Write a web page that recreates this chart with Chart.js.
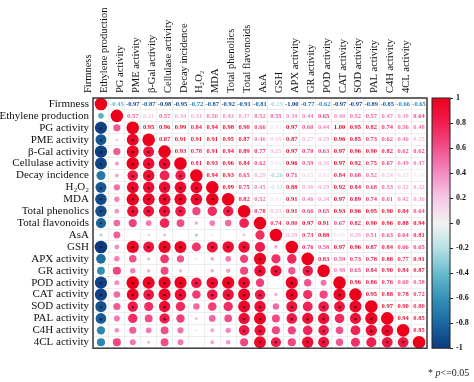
<!DOCTYPE html>
<html>
<head>
<meta charset="utf-8">
<script src="https://cdn.jsdelivr.net/npm/chart.js@4.4.0/dist/chart.umd.min.js"></script>
<style>
  body { margin: 0; background: #fff; }
  #wrap { width: 474px; height: 382px; position: relative; }
</style>
</head>
<body>
<div id="wrap"><canvas id="corr-chart"></canvas></div>
<script>
const variables = [
  'Firmness', 'Ethylene production', 'PG activity', 'PME activity', 'β-Gal activity',
  'Cellulase activity', 'Decay incidence', 'H₂O₂', 'MDA', 'Total phenolics',
  'Total flavonoids', 'AsA', 'GSH', 'APX activity', 'GR activity', 'POD activity',
  'CAT activity', 'SOD activity', 'PAL activity', 'C4H activity', '4CL activity'
];

// upper triangle, row i holds r(i, j) for j = i+1 .. 20
const corrUpper = [
  [-0.45, -0.97, -0.87, -0.98, -0.95, -0.72, -0.87, -0.92, -0.91, -0.81, -0.25, -1.00, -0.77, -0.62, -0.97, -0.97, -0.89, -0.85, -0.66, -0.65],
  [0.57, 0.21, 0.57, 0.34, 0.31, 0.50, 0.43, 0.37, 0.52, 0.55, 0.39, 0.44, 0.65, 0.40, 0.52, 0.57, 0.47, 0.38, 0.64],
  [0.95, 0.96, 0.99, 0.84, 0.94, 0.98, 0.90, 0.66, 0.05, 0.97, 0.60, 0.44, 1.00, 0.95, 0.82, 0.74, 0.56, 0.48],
  [0.87, 0.91, 0.91, 0.91, 0.95, 0.87, 0.46, 0.19, 0.87, 0.27, 0.29, 0.96, 0.85, 0.73, 0.62, 0.46, 0.25],
  [0.93, 0.78, 0.91, 0.94, 0.89, 0.77, 0.25, 0.97, 0.70, 0.63, 0.97, 0.96, 0.90, 0.82, 0.62, 0.62],
  [0.81, 0.93, 0.96, 0.84, 0.62, 0.06, 0.96, 0.59, 0.26, 0.97, 0.92, 0.75, 0.67, 0.49, 0.47],
  [0.94, 0.93, 0.65, 0.29, -0.26, 0.71, 0.15, 0.13, 0.84, 0.68, 0.52, 0.24, 0.15, 0.04],
  [0.99, 0.75, 0.45, -0.13, 0.88, 0.30, 0.29, 0.92, 0.84, 0.68, 0.53, 0.32, 0.32],
  [0.82, 0.52, 0.04, 0.91, 0.46, 0.34, 0.97, 0.89, 0.74, 0.61, 0.42, 0.36],
  [0.78, 0.23, 0.91, 0.66, 0.65, 0.93, 0.96, 0.95, 0.90, 0.84, 0.64],
  [0.74, 0.80, 0.97, 0.91, 0.67, 0.82, 0.90, 0.96, 0.88, 0.94],
  [0.29, 0.73, 0.88, 0.06, 0.28, 0.51, 0.63, 0.64, 0.81],
  [0.76, 0.58, 0.97, 0.96, 0.87, 0.84, 0.66, 0.65],
  [0.83, 0.59, 0.73, 0.78, 0.88, 0.77, 0.91],
  [0.48, 0.65, 0.84, 0.90, 0.84, 0.87],
  [0.96, 0.86, 0.76, 0.60, 0.58],
  [0.95, 0.88, 0.78, 0.72],
  [0.97, 0.90, 0.80],
  [0.94, 0.85],
  [0.85]
];

const colorbarTicks = [1, 0.8, 0.6, 0.4, 0.2, 0, -0.2, -0.4, -0.6, -0.8, -1];
const sigLimit = 0.81; // |r| marked with * (p<=0.05)

// colour map: value -> rgb
const cmap = [
  [-1.0, [12, 58, 128]],
  [-0.8, [26, 104, 160]],
  [-0.6, [52, 145, 185]],
  [-0.4, [105, 188, 204]],
  [-0.2, [184, 225, 229]],
  [0.0, [242, 242, 242]],
  [0.2, [246, 200, 230]],
  [0.4, [243, 140, 196]],
  [0.6, [242, 80, 140]],
  [0.8, [240, 30, 80]],
  [1.0, [236, 0, 28]]
];

const corrColor = (v) => {
  for (let k = 1; k < cmap.length; k++) {
    if (v <= cmap[k][0]) {
      const [v0, c0] = cmap[k - 1];
      const [v1, c1] = cmap[k];
      const t = (v - v0) / (v1 - v0);
      const c = c0.map((c, q) => Math.round(c + (c1[q] - c) * t));
      return `rgb(${c[0]},${c[1]},${c[2]})`;
    }
  }
  return 'rgb(236,0,28)';
};

const n = variables.length;
const corr = variables.map((_, i) => variables.map((_, j) => {
  if (i === j) return 1;
  return i < j ? corrUpper[i][j - i - 1] : corrUpper[j][i - j - 1];
}));

// circles: lower triangle + diagonal
const circles = [];
for (let i = 0; i < n; i++) {
  for (let j = 0; j <= i; j++) {
    const v = corr[i][j];
    circles.push({ x: variables[j], y: variables[i], r: Math.abs(v) * 6.3, v: v });
  }
}

const serif = '"Liberation Serif", "Times New Roman", serif';

const matrixExtras = {
  id: 'matrixExtras',
  afterDatasetsDraw(chart) {
    const { ctx, chartArea: a, scales: { x, y, cb } } = chart;
    ctx.save();

    // numbers in the upper triangle
    ctx.font = `bold 6.5px ${serif}`;
    ctx.textAlign = 'center';
    ctx.textBaseline = 'middle';
    for (let i = 0; i < n; i++) {
      for (let j = i + 1; j < n; j++) {
        ctx.fillStyle = corrColor(corr[i][j]);
        ctx.fillText(corr[i][j].toFixed(2), x.getPixelForValue(j), y.getPixelForValue(i));
      }
    }

    // significance marks on circles
    ctx.font = `bold 6.5px ${serif}`;
    ctx.fillStyle = '#3a0a0a';
    for (let i = 0; i < n; i++) {
      for (let j = 0; j < i; j++) {
        if (Math.abs(corr[i][j]) >= sigLimit) {
          ctx.fillText('*', x.getPixelForValue(j), y.getPixelForValue(i) + 1.5);
        }
      }
    }

    // frame
    ctx.strokeStyle = '#3a3a3a';
    ctx.lineWidth = 1.5;
    ctx.strokeRect(a.left, a.top, a.width, a.height);

    // colour bar
    const bx = cb.left + 5, bw = 18;
    const top = cb.getPixelForValue(1), bottom = cb.getPixelForValue(-1);
    const grad = ctx.createLinearGradient(0, top, 0, bottom);
    cmap.forEach(([v, c]) => grad.addColorStop((1 - v) / 2, `rgb(${c[0]},${c[1]},${c[2]})`));
    ctx.fillStyle = grad;
    ctx.fillRect(bx, top, bw, bottom - top);
    ctx.strokeStyle = '#222';
    ctx.lineWidth = 1;
    ctx.strokeRect(bx, top, bw, bottom - top);
    colorbarTicks.forEach(v => {
      const ty = Math.round(cb.getPixelForValue(v)) + 0.5;
      ctx.beginPath();
      ctx.moveTo(bx + bw, ty);
      ctx.lineTo(bx + bw + 3, ty);
      ctx.stroke();
    });

    // footnote
    ctx.fillStyle = '#222';
    ctx.textAlign = 'left';
    ctx.textBaseline = 'alphabetic';
    ctx.font = `10px ${serif}`;
    let fx = 428;
    ctx.fillText('* ', fx, 376);
    fx += ctx.measureText('* ').width;
    ctx.font = `italic 10px ${serif}`;
    ctx.fillText('p', fx, 376);
    fx += ctx.measureText('p').width;
    ctx.font = `10px ${serif}`;
    ctx.fillText('<=0.05', fx, 376);

    ctx.restore();
  }
};

const config = {
  type: 'bubble',
  data: {
    datasets: [{
      data: circles,
      backgroundColor: c => corrColor(c.raw ? c.raw.v : 1),
      borderWidth: 0
    }]
  },
  options: {
    responsive: true,
    maintainAspectRatio: false,
    animation: false,
    events: [],
    layout: { padding: { left: 0, top: 0, right: 0, bottom: 22 } },
    plugins: {
      legend: { display: false },
      tooltip: { enabled: false }
    },
    scales: {
      x: {
        type: 'category',
        labels: variables,
        position: 'top',
        offset: true,
        grid: { offset: true, color: '#e2e2e2', lineWidth: 0.6, drawTicks: false },
        border: { display: false },
        ticks: {
          autoSkip: false, minRotation: 90, maxRotation: 90, padding: 5,
          color: '#111', font: { family: serif, size: 10.5 }
        },
        afterFit: s => { s.height = 98; }
      },
      y: {
        type: 'category',
        labels: variables,
        position: 'left',
        offset: true,
        grid: { offset: true, color: '#e2e2e2', lineWidth: 0.6, drawTicks: false },
        border: { display: false },
        ticks: {
          autoSkip: false, padding: 4,
          color: '#111', font: { family: serif, size: 11 }
        },
        afterFit: s => { s.width = 93; }
      },
      cb: {
        type: 'linear',
        position: 'right',
        min: -1,
        max: 1,
        grid: { display: false, drawTicks: false },
        border: { display: false },
        ticks: {
          stepSize: 0.2, padding: 29, color: '#111',
          font: { family: serif, size: 8, weight: 'bold' },
          callback: v => String(Math.round(v * 10) / 10)
        },
        afterFit: s => { s.width = 47; }
      }
    }
  },
  plugins: [matrixExtras]
};

new Chart(document.getElementById('corr-chart').getContext('2d'), config);
</script>
</body>
</html>
